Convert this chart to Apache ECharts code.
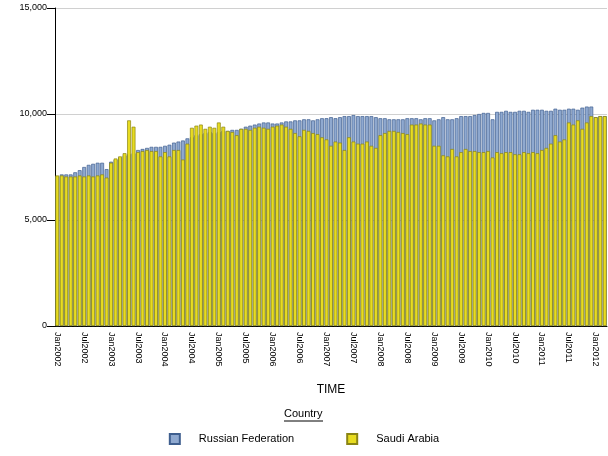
<!DOCTYPE html>
<html><head><meta charset="utf-8">
<script src="https://cdn.jsdelivr.net/npm/echarts@6/dist/echarts.min.js"></script>
<style>html,body{margin:0;padding:0;background:#fff}#c{width:608px;height:456px}</style>
</head><body><div id="c"></div>
<script>
const months=['Jan','Feb','Mar','Apr','May','Jun','Jul','Aug','Sep','Oct','Nov','Dec'];
const categories=[];
for(let y=2002;y<=2012;y++){for(let m=0;m<12;m++){if(y===2012&&m>2)break;categories.push(months[m]+y);}}
const russia=[
7050,7150,7150,7150,7250,7350,7500,7600,7650,7700,7700,7400,
7750,7850,7950,8050,8100,8150,8300,8350,8400,8450,8450,8450,
8500,8550,8650,8700,8750,8850,8900,9000,9050,9100,9150,9100,
9150,9200,9200,9250,9250,9300,9400,9450,9500,9550,9600,9600,
9550,9550,9600,9650,9650,9700,9700,9750,9750,9700,9750,9800,
9800,9850,9800,9850,9900,9900,9950,9900,9900,9900,9900,9850,
9800,9800,9750,9750,9750,9750,9800,9800,9800,9750,9800,9800,
9700,9750,9850,9750,9750,9800,9900,9900,9900,9950,10000,10050,
10050,9750,10100,10100,10150,10100,10100,10150,10150,10100,10200,10200,
10200,10150,10150,10250,10200,10200,10250,10250,10200,10300,10350,10350,
9850,9900,9900];
const saudi=[
7100,7100,7050,7050,7050,7100,7050,7100,7050,7100,7150,7000,
7700,7900,8000,8150,9700,9400,8200,8250,8300,8250,8250,8000,
8200,8000,8300,8300,7850,8600,9350,9450,9500,9300,9400,9350,
9600,9400,9200,9150,9000,9300,9300,9250,9350,9400,9350,9300,
9400,9450,9500,9400,9300,9100,8950,9250,9200,9100,9050,8900,
8800,8500,8700,8650,8300,8900,8700,8600,8600,8700,8500,8400,
9000,9100,9200,9200,9150,9100,9050,9500,9500,9550,9500,9500,
8500,8500,8050,8000,8350,8000,8200,8350,8250,8250,8200,8200,
8250,7950,8200,8150,8200,8200,8100,8100,8200,8150,8200,8150,
8300,8400,8600,9000,8700,8800,9600,9500,9700,9300,9600,9900,
9850,9900,9900];
const chart=echarts.init(document.getElementById('c'));
chart.setOption({
 animation:false,
 textStyle:{fontFamily:'Liberation Sans, Arial, sans-serif'},
 grid:{left:55,right:1,top:8,bottom:130},
 xAxis:{type:'category',data:categories,name:'TIME',nameLocation:'middle',nameGap:58,
  nameTextStyle:{fontSize:12,color:'#000'},
  axisLine:{lineStyle:{color:'#000'}},axisTick:{show:false},
  axisLabel:{interval:5,rotate:-90,fontSize:9,color:'#000',margin:6}},
 yAxis:{type:'value',min:0,max:15000,interval:5000,
  axisLine:{show:true,lineStyle:{color:'#000'}},
  axisTick:{show:true,inside:false,length:8,lineStyle:{color:'#000'}},
  axisLabel:{fontSize:9,color:'#000',formatter:v=>v.toLocaleString('en-US')},
  splitLine:{lineStyle:{color:'#d0d0d0'}}},
 legend:{bottom:6,left:'center',itemGap:52,itemWidth:10,itemHeight:10,icon:'rect',
  textStyle:{fontSize:11,color:'#000',padding:[0,0,0,14]}},
 graphic:[{type:'text',left:284,top:408,style:{text:'Country',fontSize:11,fill:'#000'}},
  {type:'line',shape:{x1:284,y1:421,x2:323,y2:421},style:{stroke:'#000',lineWidth:1}}],
 series:[
  {name:'Russian Federation',type:'bar',data:russia,barCategoryGap:'15%',barGap:'-100%',
   itemStyle:{color:'#8fa9d0',borderColor:'#3f5f8f',borderWidth:0.7}},
  {name:'Saudi Arabia',type:'bar',data:saudi,
   itemStyle:{color:'#e8dc20',borderColor:'#8a8414',borderWidth:0.7}}
 ]
});
</script></body></html>
